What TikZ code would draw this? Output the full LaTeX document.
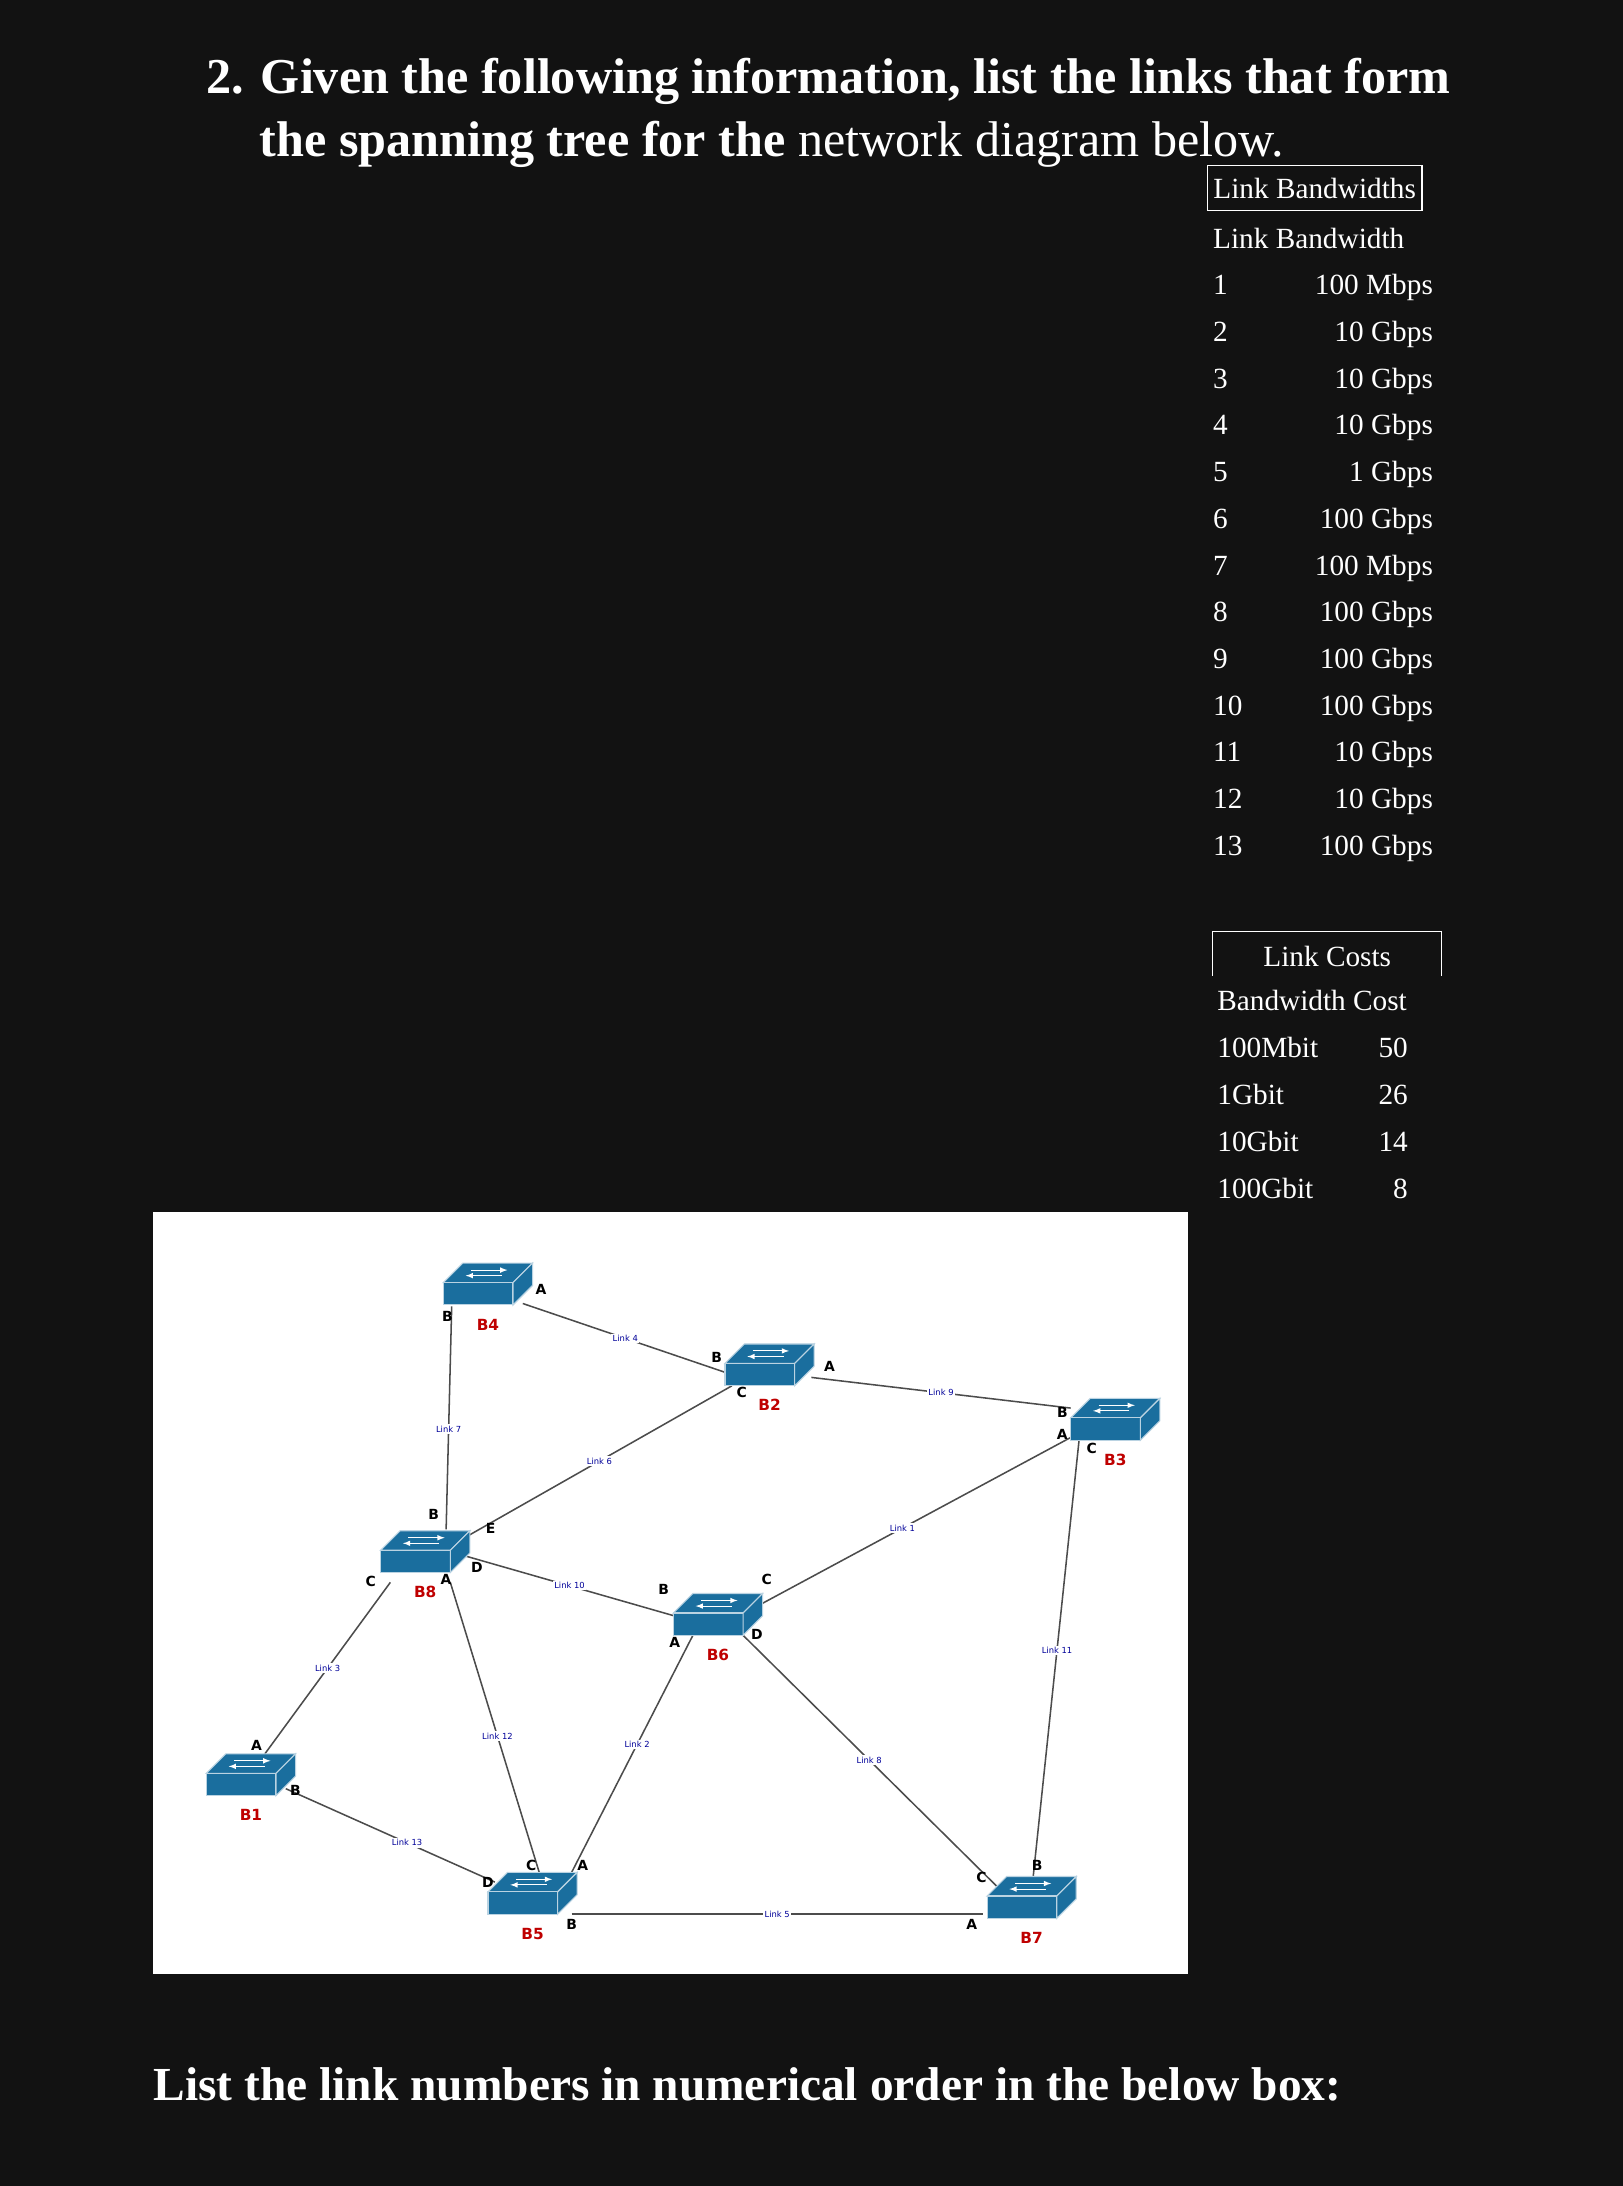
\documentclass[tikz,border=0pt]{standalone}
\usepackage{fontspec}
\setmainfont{Liberation Serif}
\setsansfont{DejaVu Sans}
\begin{document}
\begin{tikzpicture}[x=1pt,y=-1pt,
  port/.style={font=\sffamily\bfseries\fontsize{10}{10}\selectfont,text=black,inner sep=0pt},
  swname/.style={font=\sffamily\bfseries\fontsize{11}{11}\selectfont,text=red!75!black,inner sep=0pt},
  lnk/.style={draw=black!70,line width=1.1pt},
  lbl/.style={font=\sffamily\fontsize{6}{6}\selectfont,text=blue!60!black,fill=white,inner sep=1pt},
  ttl/.style={font=\fontsize{36}{36}\selectfont,text=white,anchor=base west,inner sep=0pt},
  tab/.style={font=\fontsize{21}{21}\selectfont,text=white,inner sep=0pt,anchor=base west},
  tabr/.style={font=\fontsize{21}{21}\selectfont,text=white,inner sep=0pt,anchor=base east},
  swf/.style={fill=swc,draw=white!70!swc,line width=0.8pt}]
\definecolor{swc}{HTML}{1A6E9E}
\fill[black!93] (0,0) rectangle (1164,1568);
\useasboundingbox (0,0) rectangle (1164,1568);
% title
\node[ttl,font=\bfseries\fontsize{36}{36}\selectfont] (t1) at (148,67) {2. Given the following information, list the links that form};
\node[ttl] (t2) at (186,112) {\textbf{the spanning tree for the} network diagram below.};
\node[ttl,font=\bfseries\fontsize{34}{34}\selectfont] (t3) at (110,1507) {List the link numbers in numerical order in the below box:};
% bandwidth table
\node[draw=white,line width=0.8pt,font=\fontsize{21}{21}\selectfont,text=white,inner sep=2pt,minimum width=154,minimum height=32] (bwh) at (943,135) {Link Bandwidths};
\node[tab] (bwc) at (870,178) {Link Bandwidth};
\foreach \n/\v [count=\i] in {1/100 Mbps,2/10 Gbps,3/10 Gbps,4/10 Gbps,5/1 Gbps,6/100 Gbps,7/100 Mbps,8/100 Gbps,9/100 Gbps,10/100 Gbps,11/10 Gbps,12/10 Gbps,13/100 Gbps}{
  \node[tab] (bn\i) at (870,178+\i*33.5) {\n};
  \node[tabr] (bv\i) at (1028,178+\i*33.5) {\v};
}
% cost table
\draw[white,line width=0.8pt] (870,700) -- (870,668) -- (1034,668) -- (1034,700);
\node[font=\fontsize{21}{21}\selectfont,text=white,inner sep=0pt] (cth) at (952,686) {Link Costs};
\node[tab] (cc) at (873,725) {Bandwidth Cost};
\foreach \b/\c [count=\i] in {100Mbit/50,1Gbit/26,10Gbit/14,100Gbit/8}{
  \node[tab] (cb\i) at (873,725+\i*33.7) {\b};
  \node[tabr] (cv\i) at (1010,725+\i*33.7) {\c};
}
% diagram panel
\fill[white] (110,869) rectangle (852,1416);
% ports
\coordinate (b4a) at (375,935); \coordinate (b4b) at (324,937);
\coordinate (b2b) at (522,985); \coordinate (b2c) at (525,994); \coordinate (b2a) at (582,988);
\coordinate (b3b) at (768,1010); \coordinate (b3a) at (770,1030); \coordinate (b3c) at (774,1033);
\coordinate (b8b) at (320,1097); \coordinate (b8e) at (335,1102); \coordinate (b8d) at (330,1115); \coordinate (b8c) at (280,1135); \coordinate (b8a) at (323,1135);
\coordinate (b6b) at (487,1160); \coordinate (b6c) at (547,1150); \coordinate (b6a) at (497,1173); \coordinate (b6d) at (530,1170);
\coordinate (b1a) at (190,1258); \coordinate (b1b) at (205,1283);
\coordinate (b5c) at (388,1347); \coordinate (b5a) at (408,1347); \coordinate (b5d) at (355,1350); \coordinate (b5b) at (410,1373);
\coordinate (b7c) at (717,1355); \coordinate (b7b) at (741,1347); \coordinate (b7a) at (705,1373);
% links
\draw[lnk] (b4a) -- node[lbl]{Link 4} (b2b);
\draw[lnk] (b4b) -- node[lbl,pos=0.55]{Link 7} (b8b);
\draw[lnk] (b2c) -- node[lbl]{Link 6} (b8e);
\draw[lnk] (b2a) -- node[lbl]{Link 9} (b3b);
\draw[lnk] (b6c) -- node[lbl,pos=0.45]{Link 1} (b3a);
\draw[lnk] (b8d) -- node[lbl]{Link 10} (b6b);
\draw[lnk] (b8c) -- node[lbl]{Link 3} (b1a);
\draw[lnk] (b8a) -- node[lbl,pos=0.52]{Link 12} (b5c);
\draw[lnk] (b6a) -- node[lbl,pos=0.45]{Link 2} (b5a);
\draw[lnk] (b6d) -- node[lbl,pos=0.5]{Link 8} (b7c);
\draw[lnk] (b3c) -- node[lbl,pos=0.48]{Link 11} (b7b);
\draw[lnk] (b1b) -- node[lbl,pos=0.58]{Link 13} (b5d);
\draw[lnk] (b5b) -- node[lbl]{Link 5} (b7a);
% switches
\foreach \nm/\cx/\cy in {B4/350/920,B2/552/978,B3/800/1017,B8/305/1112,B6/515/1157,B1/180/1272,B5/382/1357,B7/740/1360}{
  \begin{scope}[shift={(\cx,\cy)}]
    \path[swf] (-32,0) -- (18,0) -- (32,-14) -- (-18,-14) -- cycle;
    \path[swf] (-32,0) rectangle (18,16);
    \path[swf] (18,0) -- (32,-14) -- (32,2) -- (18,16) -- cycle;
    \draw[white,line width=0.8pt,-latex] (-12,-9) -- (14,-9);
    \draw[white,line width=0.8pt,-latex] (10,-5) -- (-16,-5);
  \end{scope}
  \node[swname] (n\nm) at (\cx,\cy+30) {\nm};
}
% port letters
\node[port] (pb4a) at (388,925) {A}; \node[port] (pb4b) at (321,944) {B};
\node[port] (pb2b) at (514,974) {B}; \node[port] (pb2c) at (532,999) {C}; \node[port] (pb2a) at (595,980) {A};
\node[port] (pb3b) at (762,1013) {B}; \node[port] (pb3a) at (762,1029) {A}; \node[port] (pb3c) at (783,1039) {C};
\node[port] (pb8b) at (311,1086) {B}; \node[port] (pb8e) at (352,1096) {E}; \node[port] (pb8d) at (342,1124) {D}; \node[port] (pb8c) at (266,1134) {C}; \node[port] (pb8a) at (320,1133) {A};
\node[port] (pb6b) at (476,1140) {B}; \node[port] (pb6c) at (550,1133) {C}; \node[port] (pb6a) at (484,1178) {A}; \node[port] (pb6d) at (543,1172) {D};
\node[port] (pb1a) at (184,1252) {A}; \node[port] (pb1b) at (212,1284) {B};
\node[port] (pb5c) at (381,1338) {C}; \node[port] (pb5a) at (418,1338) {A}; \node[port] (pb5d) at (350,1350) {D}; \node[port] (pb5b) at (410,1380) {B};
\node[port] (pb7c) at (704,1347) {C}; \node[port] (pb7b) at (744,1338) {B}; \node[port] (pb7a) at (697,1380) {A};
\end{tikzpicture}
\end{document}
